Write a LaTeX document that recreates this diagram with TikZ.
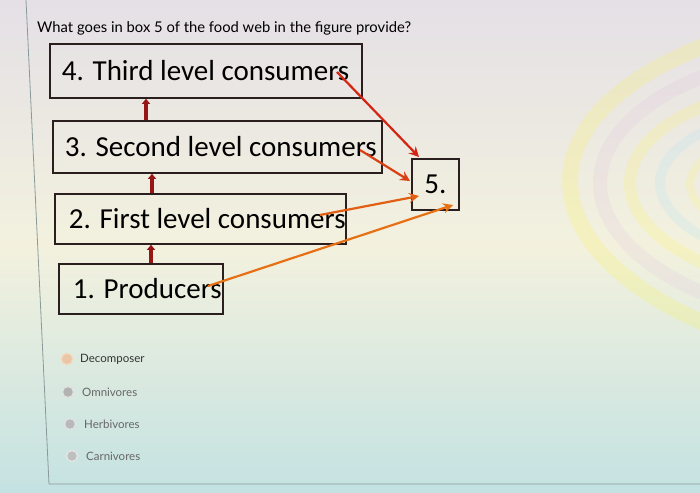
\documentclass[tikz,border=0pt]{standalone}
\usepackage{fontspec}
\setmainfont{Carlito}
\newfontfamily\latofont{Lato}
\usetikzlibrary{arrows.meta,calc}
\definecolor{boxline}{HTML}{2A1E1E}
\definecolor{uparr}{HTML}{961616}
\definecolor{arrA}{HTML}{D42412}
\definecolor{arrB}{HTML}{DA4012}
\definecolor{arrC}{HTML}{E25E12}
\definecolor{arrD}{HTML}{E87014}
\definecolor{bgtop}{HTML}{E4E0E6}
\definecolor{bgmid}{HTML}{F3F1DE}
\definecolor{bgbot}{HTML}{C4E2E2}
\definecolor{frameln}{HTML}{8A9A9A}
\tikzset{
  foodbox/.style={draw=boxline, line width=1.8pt, anchor=north west, inner sep=0pt,
    font=\fontsize{29}{30}\selectfont, text=black},
  uplink/.style={draw=uparr, line width=3.3pt, -{Triangle[length=5pt,width=8pt]}},
  weblink/.style={line width=2.2pt, -{Stealth[length=10pt,width=10pt,inset=3.5pt]}},
  optdot/.style={circle, minimum size=11pt, inner sep=0pt, fill=#1, draw=white!60!#1, line width=1.2pt},
  opttext/.style={anchor=west, font=\latofont\fontsize{11.5}{13}\selectfont, inner sep=0pt},
  swirl/.style={line width=#1, line cap=round},
}
\begin{document}
\begin{tikzpicture}[x=1pt,y=-1pt]
\useasboundingbox (0,0) rectangle (700,492);
\shade[top color=bgtop, bottom color=bgbot, middle color=bgmid] (0,0) rectangle (700,492);
% faint moire swirl bands on the right
\begin{scope}[opacity=0.18]
\draw[yellow!80!white, swirl=16pt] (720,40) .. controls (520,110) and (520,250) .. (720,330);
\draw[violet!25!white, swirl=14pt] (720,70) .. controls (560,125) and (560,240) .. (720,300);
\draw[yellow!70!white, swirl=12pt] (720,100) .. controls (600,140) and (600,225) .. (720,270);
\draw[cyan!35!white, swirl=10pt] (720,125) .. controls (640,155) and (640,210) .. (720,245);
\draw[yellow!60!white, swirl=8pt] (720,150) .. controls (680,168) and (680,200) .. (720,220);
\end{scope}
% page frame
\coordinate (fa) at (26,0);
\coordinate (fb) at (49,484);
\coordinate (fc) at (700,484);
\draw[frameln, line width=0.8pt] (fa) -- (fb) -- (fc);
% title
\node[anchor=west, font=\latofont\fontsize{14.8}{16}\selectfont, inner sep=0pt] (title) at (37,28)
  {What goes in box 5 of the food web in the figure provide?};
% boxes
\node[foodbox, minimum width=312pt, minimum height=54pt] (n4) at (49,43)
  {\makebox[312pt][l]{\hspace*{12pt}4. Third level consumers}};
\node[foodbox, minimum width=329pt, minimum height=52pt] (n3) at (52,120)
  {\makebox[329pt][l]{\hspace*{12pt}3. Second level consumers}};
\node[foodbox, minimum width=291pt, minimum height=50pt] (n2) at (54,193)
  {\makebox[291pt][l]{\hspace*{14pt}2. First level consumers}};
\node[foodbox, minimum width=164pt, minimum height=50pt] (n1) at (58,263)
  {\makebox[164pt][l]{\hspace*{14pt}1. Producers}};
\node[foodbox, minimum width=47pt, minimum height=51pt] (n5) at (411,158) {5.};
% vertical arrows
\coordinate (xa) at (146,0);
\coordinate (xb) at (152,0);
\coordinate (xc) at (151,0);
\draw[uplink] (n3.north -| xa) -- (n4.south -| xa);
\draw[uplink] (n2.north -| xb) -- (n3.south -| xb);
\draw[uplink] (n1.north -| xc) -- (n2.south -| xc);
% arrows to box 5
\coordinate (sA) at (337,72);
\coordinate (sB) at (360,150);
\coordinate (sC) at (320,215);
\coordinate (sD) at (208,286);
\coordinate (tA) at (419,157);
\coordinate (tB) at (410,181);
\coordinate (tC) at (419,196);
\coordinate (tD) at (453,205);
\draw[weblink, draw=arrA] (sA) -- (tA);
\draw[weblink, draw=arrB] (sB) -- (tB);
\draw[weblink, draw=arrC] (sC) -- (tC);
\draw[weblink, draw=arrD] (sD) -- (tD);
% options
\node[optdot=black!25!orange!35!white] (o1) at (67,359) {};
\node[optdot=gray!60] (o2) at (68,392) {};
\node[optdot=gray!55] (o3) at (70,424) {};
\node[optdot=gray!50] (o4) at (72,456) {};
\node[opttext, text=black!80] (l1) at (80,359) {Decomposer};
\node[opttext, text=black!60] (l2) at (82,392) {Omnivores};
\node[opttext, text=black!60] (l3) at (84,424) {Herbivores};
\node[opttext, text=black!60] (l4) at (86,456) {Carnivores};
\end{tikzpicture}
\end{document}
